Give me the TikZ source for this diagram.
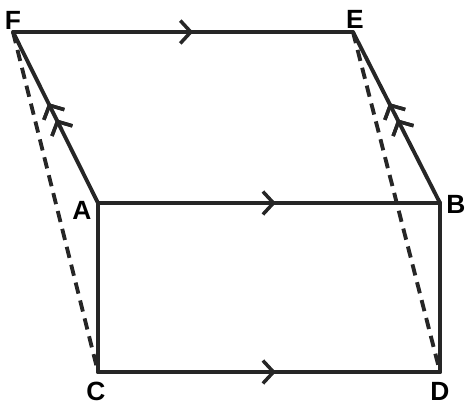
\documentclass[tikz,border=0pt]{standalone}
\usepackage{fontspec}
\setmainfont{Liberation Sans}
\usetikzlibrary{arrows.meta,decorations.markings}

\tikzset{
  side/.style={line width=2.2pt, line cap=round, line join=round, black!85},
  diag/.style={side, dash pattern=on 6.5pt off 4pt, line cap=butt},
  chev/.style={decoration={markings,
      mark=at position #1 with {\arrow{Straight Barb[length=6pt,width=13pt,line width=2pt]}}},
      postaction={decorate}},
  lbl/.style={font=\bfseries\fontsize{15}{17}\selectfont}
}

\begin{document}
\begin{tikzpicture}[x=0.02cm, y=-0.02cm]
    \useasboundingbox (0,0) rectangle (474,409);

    %% corners
    \coordinate (F) at (13,32);
    \coordinate (E) at (353,32);
    \coordinate (A) at (98,203);
    \coordinate (B) at (440,203);
    \coordinate (C) at (98,372);
    \coordinate (D) at (440,372);

    %% dashed diagonals
    \draw[diag] (F) -- (C);
    \draw[diag] (E) -- (D);

    %% sides
    \draw[side] (A) -- (C);
    \draw[side] (B) -- (D);
    \draw[side, chev=0.53] (F) -- (E);
    \draw[side, chev=0.52] (A) -- (B);
    \draw[side, chev=0.52] (C) -- (D);
    \draw[side, chev=0.49, chev=0.585] (A) -- (F);
    \draw[side, chev=0.49, chev=0.585] (B) -- (E);

    %% labels
    \node[lbl] (lF) at (13,20) {F};
    \node[lbl] (lE) at (355,19) {E};
    \node[lbl] (lA) at (82,210) {A};
    \node[lbl] (lB) at (456,204) {B};
    \node[lbl] (lC) at (96,391) {C};
    \node[lbl] (lD) at (440,391) {D};
\end{tikzpicture}
\end{document}
